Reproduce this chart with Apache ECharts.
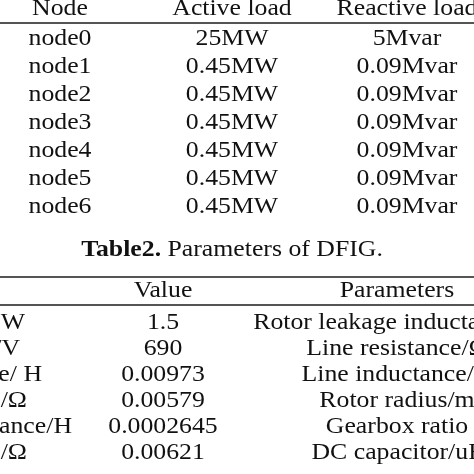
<!DOCTYPE html>
<html><head><meta charset="utf-8">
<script src="https://cdn.jsdelivr.net/npm/echarts@6/dist/echarts.min.js"></script>
<style>html,body{margin:0;padding:0;background:#fff}#c{width:474px;height:474px}</style>
</head><body><div id="c"></div>
<script>
const t1Header = ['Node', 'Active load', 'Reactive load'];
const t1Nodes = ['node0','node1','node2','node3','node4','node5','node6'];
const t1Active = ['25MW','0.45MW','0.45MW','0.45MW','0.45MW','0.45MW','0.45MW'];
const t1Reactive = ['5Mvar','0.09Mvar','0.09Mvar','0.09Mvar','0.09Mvar','0.09Mvar','0.09Mvar'];
const t2Title = ['Table2.', ' Parameters of DFIG.'];
const t2Header = ['Parameters', 'Value', 'Parameters'];
const t2Params = ['Rated power/MW','Rated voltage/V','Stator inductance/ H','Stator resistance/Ω','Mutual inductance/H','Rotor resistance/Ω'];
const t2Values = ['1.5','690','0.00973','0.00579','0.0002645','0.00621'];
const t2Params2 = ['Rotor leakage inductance/H','Line resistance/Ω','Line inductance/H','Rotor radius/m','Gearbox ratio','DC capacitor/uF'];

const FAM = '"Liberation Serif"';
const FS = 23, SX = 1.12;
const g = [];
function txt(s, x, y, align, bold) {
  g.push({type:'text', x:x, y:y, scaleX:SX, scaleY:1,
    style:{text:s, x:0, y:0, align:align||'center', verticalAlign:'middle',
      fontFamily:FAM, fontSize:FS, fontWeight:bold?'bold':'normal', fill:'#111'}});
}
function line(y) {
  g.push({type:'line', shape:{x1:0,y1:y,x2:474,y2:y}, style:{stroke:'#555', lineWidth:2}});
}
const c1 = [60, 232, 407];
t1Header.forEach((h,i)=>txt(h, c1[i], 9));
line(23);
t1Nodes.forEach((n,i)=>{
  const y = 39 + i*28;
  txt(n, c1[0], y); txt(t1Active[i], c1[1], y); txt(t1Reactive[i], c1[2], y);
});
g.push({type:'text', x:232, y:250, scaleX:SX,
  style:{text:'{b|'+t2Title[0]+'}{n|'+t2Title[1]+'}', x:0, y:0, align:'center', verticalAlign:'middle',
   rich:{b:{fontFamily:FAM, fontSize:FS, fontWeight:'bold', fill:'#111'}, n:{fontFamily:FAM, fontSize:FS, fill:'#111'}}}});
line(277); line(305);
const leftEnds = [25, 20, 42, 27, 72, 27];
txt(t2Header[0], -60, 291);
txt(t2Header[1], 163, 291);
txt(t2Header[2], 397, 291);
t2Values.forEach((v,i)=>{
  const y = 323 + i*26;
  txt(t2Params[i], leftEnds[i], y, 'right');
  txt(v, 163, y);
  txt(t2Params2[i], 397, y);
});
const chart = echarts.init(document.getElementById('c'));
chart.setOption({backgroundColor:'#fff', graphic:{elements:g}});
</script></body></html>
